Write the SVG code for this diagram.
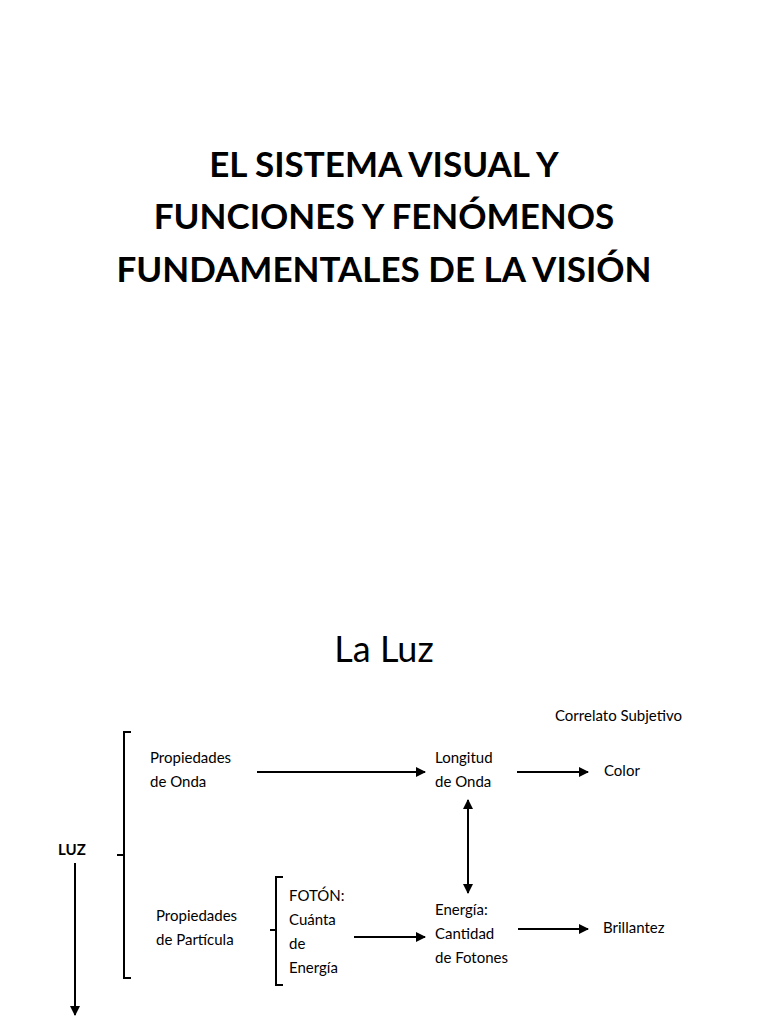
<svg xmlns="http://www.w3.org/2000/svg" width="768" height="1024" viewBox="0 0 768 1024">
<style>
text{font-family:Lato,"Open Sans","Liberation Sans",sans-serif;fill:#000}
.t{font-size:35px;font-weight:bold;text-anchor:middle}
.s{font-size:15px}
.c line,.c path{stroke:#000;stroke-width:2;fill:none}
</style>
<defs><marker id="a" markerWidth="10" markerHeight="10" refX="9" refY="5" orient="auto-start-reverse" markerUnits="userSpaceOnUse"><path d="M0,0 L10,5 L0,10 Z" fill="#000"/></marker></defs>
<rect width="768" height="1024" fill="#fff"/>
<g id="title"><text class="t" x="384" y="177">EL SISTEMA VISUAL Y</text><text class="t" x="384" y="229">FUNCIONES Y FENÓMENOS</text><text class="t" x="384" y="282">FUNDAMENTALES DE LA VISIÓN</text></g>
<text x="384" y="662" style="font-size:36px;text-anchor:middle">La Luz</text>
<text class="s" x="555" y="721">Correlato Subjetivo</text>
<g id="luz"><text class="s" x="58" y="855" style="font-weight:bold">LUZ</text></g>
<g id="onda"><text class="s" x="150" y="763">Propiedades</text><text class="s" x="150" y="787">de Onda</text></g>
<g id="particula"><text class="s" x="156" y="921">Propiedades</text><text class="s" x="156" y="945">de Partícula</text></g>
<g id="foton"><text class="s" x="289" y="901">FOTÓN:</text><text class="s" x="289" y="925">Cuánta</text><text class="s" x="289" y="949">de</text><text class="s" x="289" y="973">Energía</text></g>
<g id="longitud"><text class="s" x="435" y="763">Longitud</text><text class="s" x="435" y="787">de Onda</text></g>
<g id="energia"><text class="s" x="435" y="915">Energía:</text><text class="s" x="435" y="939">Cantidad</text><text class="s" x="435" y="963">de Fotones</text></g>
<g id="color"><text class="s" x="604" y="776">Color</text></g>
<g id="brillantez"><text class="s" x="603" y="933">Brillantez</text></g>
<g class="c" id="connectors">
<path d="M131,732 H124 V978 H131 M124,855 H117"/>
<path d="M283,877 H276 V985 H283 M276,930 H270"/>
<line x1="257" y1="772" x2="425" y2="772" marker-end="url(#a)"/>
<line x1="517" y1="772" x2="588" y2="772" marker-end="url(#a)"/>
<line x1="468" y1="800" x2="468" y2="893" marker-start="url(#a)" marker-end="url(#a)"/>
<line x1="354" y1="937" x2="425" y2="937" marker-end="url(#a)"/>
<line x1="518" y1="929" x2="588" y2="929" marker-end="url(#a)"/>
<line x1="75" y1="863" x2="75" y2="1015" marker-end="url(#a)"/>
</g>
</svg>
